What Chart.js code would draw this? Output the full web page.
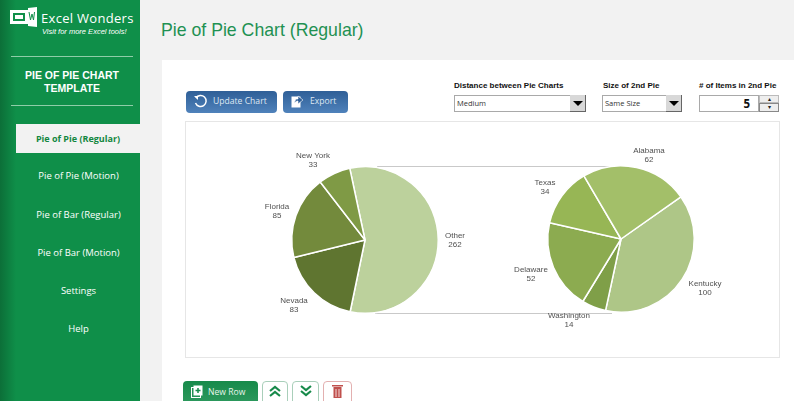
<!DOCTYPE html>
<html><head><meta charset="utf-8">
<script src="https://cdn.jsdelivr.net/npm/chart.js@4"></script>
<style>
*{box-sizing:border-box}
html,body{margin:0;padding:0;width:794px;height:401px;overflow:hidden;background:#f2f2f2;font-family:"Liberation Sans",Arial,sans-serif}
.a{position:absolute}
#side{left:0;top:0;width:140px;height:401px;background:linear-gradient(90deg,#0c6f38 0,#0f8f49 16px,#0f8f49 100%)}
.rule{left:11px;width:122px;height:1px;background:#8fcda8}
.nav{left:0;width:157px;text-align:center;color:#fff;font-size:9.5px;font-family:"Open Sans",sans-serif}
#active{left:16px;top:124px;width:124px;height:29px;background:#f2f2f2;color:#12873f;font-weight:700;font-size:9px;line-height:29px;text-align:center;font-family:"Open Sans",sans-serif}
#panel{left:162px;top:60px;width:632px;height:341px;background:#fff}
#card{left:185px;top:121px;width:595px;height:237px;border:1px solid #e6e6e6;background:#fff}
.btn{color:#dfe8f3;font-size:8.6px;border-radius:4px;background:linear-gradient(180deg,#2f5f97,#4f82bb);font-family:"Open Sans",sans-serif;line-height:21px}
.lab{font-size:8px;font-weight:700;color:#111;top:81px;white-space:nowrap}
.sel{top:95px;height:17px;border:1px solid #a9a9a9;background:#fff;font-size:7.5px;color:#333;line-height:15px;padding-left:2px;font-family:"Open Sans",sans-serif}
.arr{top:95px;width:16px;height:17px;background:#d8d8d8;border-right:1px solid #666;border-bottom:1px solid #666}
.arr:after{content:"";position:absolute;left:3px;top:6px;border-left:5px solid transparent;border-right:5px solid transparent;border-top:5px solid #000}
.conn{height:1px;background:#c9c9c9}
.tool{top:381px;height:24px;border-radius:4px;background:#fff;text-align:center}
</style></head><body>
<div class="a" id="side"></div>
<svg class="a" style="left:10px;top:7px" width="27" height="20" viewBox="0 0 27 20"><path d="M0 3 L18 3 L18 1 L27 0 L27 20 L18 19 L18 17 L0 17z" fill="#fff"/><rect x="3" y="6" width="12" height="8" fill="#0f8f49"/><rect x="5" y="8" width="8" height="4" fill="#fff"/><path d="M19 5l1.500 8 1.500-6 1.500 6 1-8" fill="none" stroke="#0f8f49" stroke-width="1"/></svg>
<div class="a" style="left:41px;top:9px;color:#fff;font:13px 'Open Sans',sans-serif;letter-spacing:.3px;white-space:nowrap">Excel Wonders</div>
<div class="a" style="left:42px;top:27px;color:#fff;font:italic 7.500px 'Liberation Sans',sans-serif;white-space:nowrap">Visit for more Excel tools!</div>
<div class="a rule" style="top:56px"></div>
<div class="a" style="left:0;top:69px;width:144px;text-align:center;color:#fff;font-weight:700;font-size:10.500px;line-height:12.500px">PIE OF PIE CHART<br>TEMPLATE</div>
<div class="a rule" style="top:105px"></div>
<div class="a" id="active">Pie of Pie (Regular)</div>
<div class="a nav" style="top:169px">Pie of Pie (Motion)</div>
<div class="a nav" style="top:208px">Pie of Bar (Regular)</div>
<div class="a nav" style="top:246px">Pie of Bar (Motion)</div>
<div class="a nav" style="top:284px">Settings</div>
<div class="a nav" style="top:322px">Help</div>
<div class="a" style="left:161px;top:20px;color:#1f9152;font-size:17.700px;white-space:nowrap">Pie of Pie Chart (Regular)</div>
<div class="a" id="panel"></div>
<div class="a btn" style="left:186px;top:91px;width:91px;height:22px;padding-left:27px">Update Chart</div>
<svg class="a" style="left:193px;top:94px" width="15" height="15" viewBox="0 0 15 15"><path d="M3 4A5.500 5.500 0 1 1 2.500 9" fill="none" stroke="#fff" stroke-width="1.500"/><path d="M1 2h4v4z" fill="#fff"/></svg>
<div class="a btn" style="left:283px;top:91px;width:65px;height:22px;padding-left:27px">Export</div>
<svg class="a" style="left:291px;top:95px" width="12" height="13" viewBox="0 0 12 13"><rect x="0.500" y="1.500" width="9" height="11" fill="#fff"/><path d="M3 8 L5 4 H7 V1 L12 5 L7 9 V6 H6z" fill="#2f5f97" stroke="#fff" stroke-width=".6"/></svg>
<div class="a lab" style="left:454px">Distance between Pie Charts</div>
<div class="a sel" style="left:454px;width:132px">Medium</div><div class="a arr" style="left:570px"></div>
<div class="a lab" style="left:603px">Size of 2nd Pie</div>
<div class="a sel" style="left:602px;width:80px">Same Size</div><div class="a arr" style="left:666px"></div>
<div class="a lab" style="left:699px"># of Items in 2nd Pie</div>
<div class="a sel" style="left:699px;width:60px;text-align:right;padding-right:8px;font:700 11.500px/15px 'Open Sans',sans-serif;color:#111">5</div>
<div class="a" style="left:759px;top:95px;width:20px;height:8px;background:#eee;border:1px solid #bbb;font-size:6px;line-height:6px;text-align:center;color:#222">▴</div>
<div class="a" style="left:759px;top:103px;width:20px;height:9px;background:#eee;border:1px solid #888;font-size:6px;line-height:6px;text-align:center;color:#222">▾</div>
<div class="a" id="card"></div>
<div class="a conn" style="left:377px;top:166px;width:236px"></div>
<div class="a conn" style="left:375px;top:312.500px;width:237px"></div>
<div class="a" style="left:245px;top:139.500px;width:240px;height:200px"><canvas id="pieA" width="240" height="200"></canvas></div>
<div class="a" style="left:501px;top:139px;width:240px;height:200px"><canvas id="pieB" width="240" height="200"></canvas></div>
<div class="a" style="left:183px;top:381px;width:75px;height:24px;border-radius:4px;background:linear-gradient(180deg,#178a4a,#2f9a5f);color:#e8f5ec;font:8.600px/22px 'Open Sans',sans-serif;padding-left:25px">New Row</div>
<svg class="a" style="left:191px;top:385px" width="12" height="13" viewBox="0 0 12 13"><rect x="2.500" y=".5" width="9" height="10" fill="#fff"/><rect x=".5" y="2.500" width="9" height="10" fill="none" stroke="#fff"/><path d="M7 3v5M4.500 5.500h5" stroke="#178a4a" stroke-width="1.500"/></svg>
<div class="a tool" style="left:262px;width:26px;border:1px solid #a9cfba"></div>
<svg class="a" style="left:269px;top:385px" width="12" height="12" viewBox="0 0 12 12"><path d="M1 6L6 2L11 6M1 11L6 7L11 11" fill="none" stroke="#178a4a" stroke-width="2.200"/></svg>
<div class="a tool" style="left:292px;width:27px;border:1px solid #a9cfba"></div>
<svg class="a" style="left:300px;top:385px" width="12" height="12" viewBox="0 0 12 12"><path d="M1 1L6 5L11 1M1 6L6 10L11 6" fill="none" stroke="#178a4a" stroke-width="2.200"/></svg>
<div class="a tool" style="left:323px;width:29px;border:1px solid #e3b0b0"></div>
<svg class="a" style="left:332px;top:384px" width="11" height="14" viewBox="0 0 11 14"><rect x="1.500" y="3" width="8" height="11" fill="#c0504d"/><rect x="0" y="1" width="11" height="1.500" fill="#c0504d"/><path d="M4 5v8M7 5v8" stroke="#fff" stroke-width=".8"/></svg>
<script>
const mainCategories = ["Other","Nevada","Florida","New York"];
const mainValues = [262,83,85,33];
const mainColors = ["#BCD19C","#5F7530","#738A3C","#7F9A45"];
const subCategories = ["Kentucky","Washington","Delaware","Texas","Alabama"];
const subValues = [100,14,52,34,62];
const subColors = ["#AEC687","#7F9F48","#8CAB50","#97B655","#A3BF69"];
const mainLabelOffsets = [[90,0],[-71,65.5],[-88,-29],[-52,-80]];
const subLabelOffsets = [[84,49],[-52,81],[-90,35],[-76,-52],[28,-84]];

const labelPlugin = {
  id:'sliceLabels',
  afterDatasetsDraw(chart, args, opts){
    const ctx = chart.ctx, meta = chart.getDatasetMeta(0), ds = chart.data.datasets[0];
    const c = meta.data[0];
    ctx.save();
    ctx.font = '8px "Liberation Sans", Arial, sans-serif';
    ctx.fillStyle = '#505050';
    ctx.textAlign = 'center';
    ctx.textBaseline = 'middle';
    chart.data.labels.forEach((name,i)=>{
      const [dx,dy] = opts.offsets[i];
      ctx.fillText(name, c.x+dx, c.y+dy-4.5);
      ctx.fillText(String(ds.data[i]), c.x+dx, c.y+dy+4.5);
    });
    ctx.restore();
  }
};
function makePie(id, labels, values, colors, rotation, offsets){
  new Chart(document.getElementById(id),{
    type:'pie',
    data:{labels, datasets:[{data:values, backgroundColor:colors, borderColor:'#fff', borderWidth:1.5}]},
    options:{
      responsive:false, animation:false, rotation,
      layout:{padding:{left:46,right:46,top:26,bottom:26}},
      plugins:{legend:{display:false},tooltip:{enabled:false},sliceLabels:{offsets}}
    },
    plugins:[labelPlugin]
  });
}
makePie('pieA', mainCategories, mainValues, mainColors, -12, mainLabelOffsets);
makePie('pieB', subCategories, subValues, subColors, 54.8, subLabelOffsets);
</script>
</body></html>
